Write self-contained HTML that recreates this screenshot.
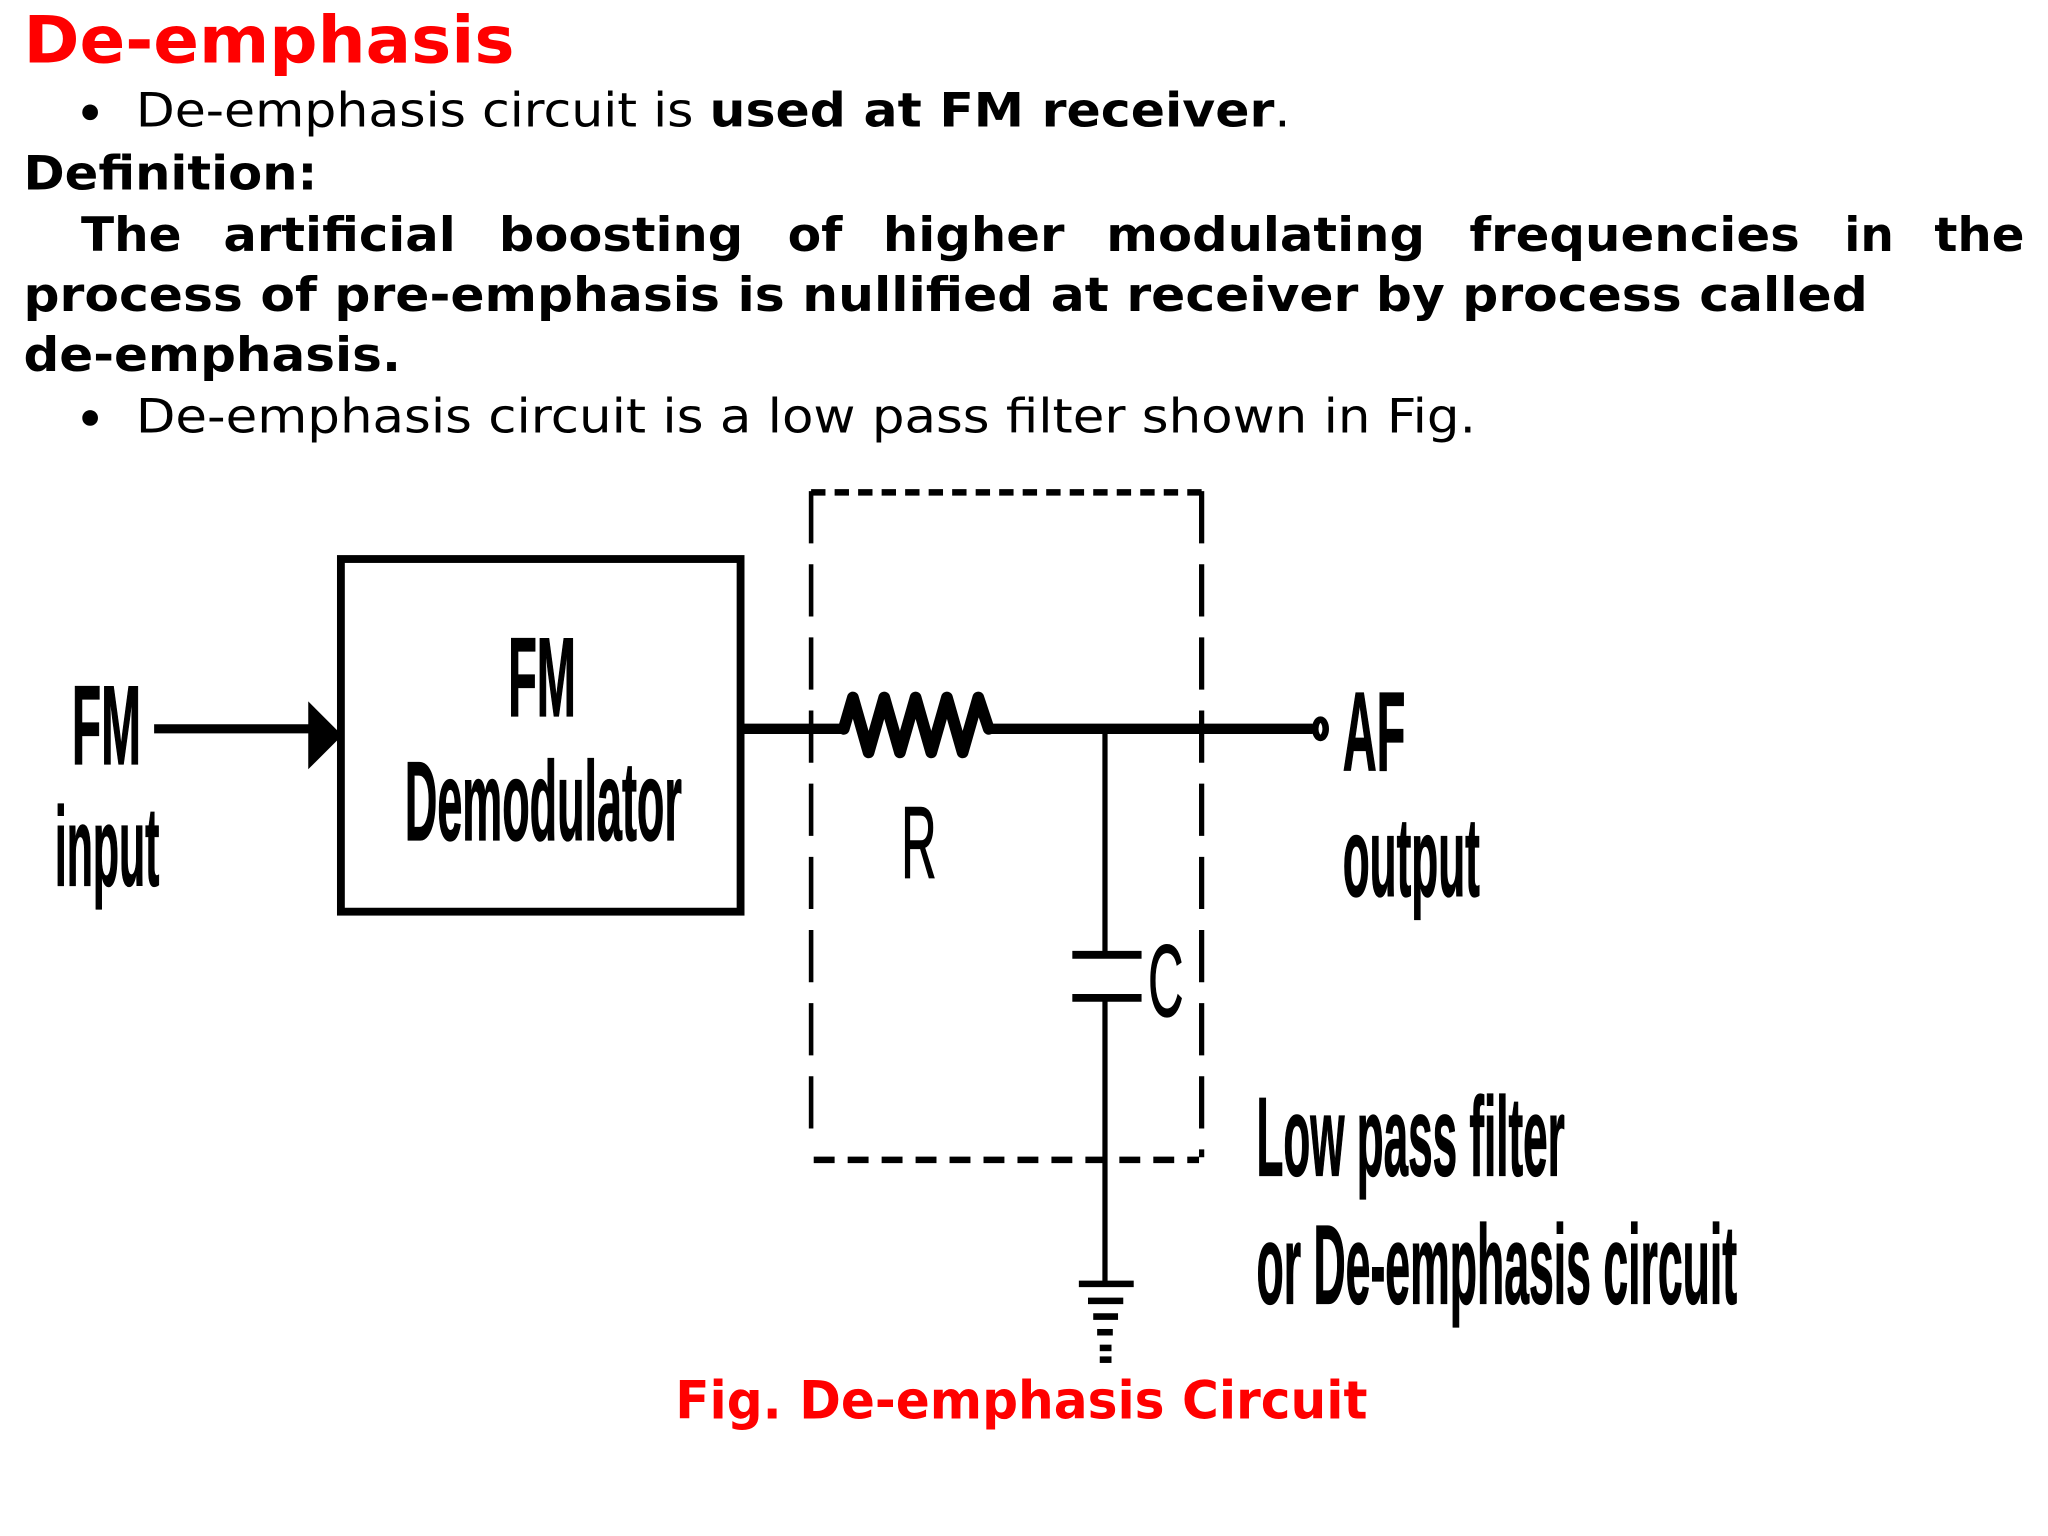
<!DOCTYPE html>
<html><head><meta charset="utf-8"><style>
html,body{margin:0;padding:0;background:#fff;}
svg{display:block;}
.b{font-family:"DejaVu Sans","Liberation Sans",sans-serif;}
.n{font-family:"Liberation Sans",sans-serif;font-weight:bold;}
</style></head><body>
<svg width="2048" height="1536" viewBox="0 0 1568 1176" preserveAspectRatio="none" xmlns="http://www.w3.org/2000/svg">
<rect width="1568" height="1176" fill="#fff"/>
<g class="b" fill="#000">
<text x="18" y="48" font-size="50" font-weight="bold" fill="#f00" textLength="376" lengthAdjust="spacingAndGlyphs">De-emphasis</text>
<circle cx="69" cy="86" r="6"/>
<text x="104" y="97" font-size="36" textLength="884" lengthAdjust="spacingAndGlyphs">De-emphasis circuit is <tspan font-weight="bold">used at FM receiver</tspan>.</text>
<text x="18" y="145" font-size="36" font-weight="bold" textLength="225" lengthAdjust="spacingAndGlyphs">Definition:</text>
<g font-size="36" font-weight="bold">
<text x="62" y="192" textLength="77" lengthAdjust="spacingAndGlyphs">The</text>
<text x="171" y="192" textLength="178" lengthAdjust="spacingAndGlyphs">artificial</text>
<text x="382" y="192" textLength="187" lengthAdjust="spacingAndGlyphs">boosting</text>
<text x="603" y="192" textLength="42" lengthAdjust="spacingAndGlyphs">of</text>
<text x="676" y="192" textLength="139" lengthAdjust="spacingAndGlyphs">higher</text>
<text x="847" y="192" textLength="244" lengthAdjust="spacingAndGlyphs">modulating</text>
<text x="1125" y="192" textLength="253" lengthAdjust="spacingAndGlyphs">frequencies</text>
<text x="1412" y="192" textLength="38" lengthAdjust="spacingAndGlyphs">in</text>
<text x="1481" y="192" textLength="69" lengthAdjust="spacingAndGlyphs">the</text>
</g>
<text x="18" y="238" font-size="36" font-weight="bold" textLength="1412" lengthAdjust="spacingAndGlyphs">process of pre-emphasis is nullified at receiver by process called</text>
<text x="18" y="284" font-size="36" font-weight="bold" textLength="289" lengthAdjust="spacingAndGlyphs">de-emphasis.</text>
<circle cx="69" cy="320" r="6"/>
<text x="104" y="331" font-size="36" textLength="1026" lengthAdjust="spacingAndGlyphs">De-emphasis circuit is a low pass filter shown in Fig.</text>
<text x="517" y="1086" font-size="40" font-weight="bold" fill="#f00" textLength="530" lengthAdjust="spacingAndGlyphs">Fig. De-emphasis Circuit</text>
</g>
<g class="n" fill="#000" stroke="#000" stroke-width="1">
<text x="55" y="585" font-size="86" textLength="53" lengthAdjust="spacingAndGlyphs">FM</text>
<text x="42" y="678" font-size="86" textLength="80" lengthAdjust="spacingAndGlyphs">input</text>
<text x="389" y="548" font-size="86" textLength="52" lengthAdjust="spacingAndGlyphs">FM</text>
<text x="310" y="643" font-size="86" textLength="212" lengthAdjust="spacingAndGlyphs">Demodulator</text>
<text x="690" y="672" font-size="78" textLength="27" lengthAdjust="spacingAndGlyphs" font-weight="normal">R</text>
<text x="879" y="778" font-size="78" textLength="27" lengthAdjust="spacingAndGlyphs" font-weight="normal">C</text>
<text x="1028" y="590" font-size="86" textLength="48" lengthAdjust="spacingAndGlyphs">AF</text>
<text x="1028" y="686" font-size="86" textLength="105" lengthAdjust="spacingAndGlyphs">output</text>
<text x="962" y="900" font-size="86" textLength="236" lengthAdjust="spacingAndGlyphs">Low pass filter</text>
<text x="962" y="998" font-size="86" textLength="368" lengthAdjust="spacingAndGlyphs">or De-emphasis circuit</text>
</g>
<g stroke="#000" fill="none">
<line x1="118" y1="558" x2="240" y2="558" stroke-width="7"/>
<rect x="261" y="428" width="306" height="270" stroke-width="6"/>
<line x1="568" y1="558" x2="648" y2="558" stroke-width="8"/>
<polyline points="646,558 653,534 665,576 677,534 689,576 701,534 713,576 725,534 737,576 749,534 757,558" stroke-width="9" stroke-linejoin="round" stroke-linecap="round"/>
<line x1="755" y1="558" x2="1005" y2="558" stroke-width="8"/>
<ellipse cx="1011" cy="558" rx="4" ry="7" stroke-width="5"/>
<line x1="621" y1="377" x2="920" y2="377" stroke-width="5" stroke-dasharray="11,7"/>
<line x1="623" y1="888" x2="918" y2="888" stroke-width="5" stroke-dasharray="16,10"/>
<line x1="621" y1="376" x2="621" y2="876" stroke-width="3.5" stroke-dasharray="40,16"/>
<line x1="920" y1="376" x2="920" y2="886" stroke-width="4" stroke-dasharray="40,16"/>
<line x1="846" y1="558" x2="846" y2="730" stroke-width="4"/>
<line x1="846" y1="765" x2="846" y2="982" stroke-width="4"/>
<line x1="821" y1="731" x2="874" y2="731" stroke-width="6"/>
<line x1="821" y1="764" x2="874" y2="764" stroke-width="6"/>
<line x1="826" y1="983" x2="868" y2="983" stroke-width="5"/>
<line x1="833" y1="996" x2="860" y2="996" stroke-width="5"/>
<line x1="837" y1="1008" x2="856" y2="1008" stroke-width="5"/>
<line x1="840" y1="1020" x2="852" y2="1020" stroke-width="5"/>
<line x1="842" y1="1032" x2="851" y2="1032" stroke-width="5"/>
<line x1="842" y1="1041" x2="851" y2="1041" stroke-width="5"/>
</g>
<polygon points="236,537 262,563 236,589" fill="#000"/>
</svg>
</body></html>
